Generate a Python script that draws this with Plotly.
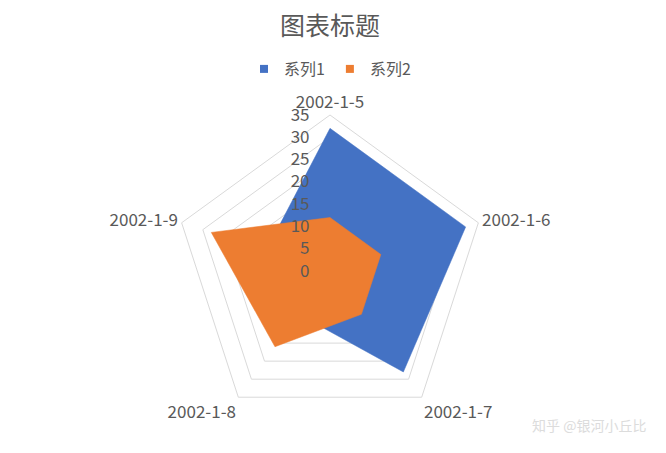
import plotly.graph_objects as go

categories = ["2002-1-5", "2002-1-6", "2002-1-7", "2002-1-8", "2002-1-9"]
series1 = [32, 32, 28, 12, 15]
series2 = [12, 12, 12, 21, 28]
series_names = ["系列1", "系列2"]
colors = ["#4472C4", "#ED7D31"]
radial_ticks = [0, 5, 10, 15, 20, 25, 30, 35]

FONT = "Noto Sans CJK SC"
GREY = "#595959"

fig = go.Figure()
for name, vals, col in zip(series_names, [series1, series2], colors):
    fig.add_trace(go.Scatterpolar(
        r=vals + vals[:1],
        theta=categories + categories[:1],
        name=name,
        mode="lines",
        fill="toself",
        fillcolor=col,
        line=dict(color=col, width=0.5),
        showlegend=False,
    ))
# legend entries with square swatches
for name, col in zip(series_names, colors):
    fig.add_trace(go.Scatterpolar(
        r=[None], theta=[None], name=name, mode="markers",
        marker=dict(symbol="square", size=8, color=col),
        showlegend=True,
    ))

W, H = 666, 453
cx, cy, R = 330, 271, 156
fig.update_layout(
    width=W, height=H,
    margin=dict(l=0, r=0, t=0, b=0),
    paper_bgcolor="white",
    plot_bgcolor="white",
    font=dict(family=FONT, color=GREY),
    title=dict(text="图表标题", x=cx / W, xanchor="center", y=1 - 26 / H, yanchor="middle",
               font=dict(size=25, color=GREY, family=FONT)),
    legend=dict(orientation="h", x=cx / W, xanchor="center", y=1 - 69 / H, yanchor="middle",
                font=dict(size=16, color=GREY, family=FONT), itemwidth=30, traceorder="normal"),
    polar=dict(
        domain=dict(x=[(cx - R) / W, (cx + R) / W], y=[(H - cy - R) / H, (H - cy + R) / H]),
        gridshape="linear",
        bgcolor="white",
        radialaxis=dict(range=[0, 35], tickvals=radial_ticks, showline=False, angle=90,
                        tickangle=90, side="counterclockwise", gridcolor="#D9D9D9", gridwidth=1,
                        ticks="outside", ticklen=14, tickcolor="rgba(0,0,0,0)",
                        tickfont=dict(size=17, color=GREY, family=FONT)),
        angularaxis=dict(type="category", categoryorder="array", categoryarray=categories,
                         rotation=90, direction="clockwise", showgrid=False,
                         linecolor="#D9D9D9", linewidth=1, ticks="",
                         tickfont=dict(size=17, color=GREY, family=FONT)),
    ),
    annotations=[dict(text="知乎 @银河小丘比", x=648 / W, xanchor="right", y=1 - 425 / H,
                      yanchor="middle", xref="paper", yref="paper", showarrow=False,
                      font=dict(size=14, color="#DCDCDC", family=FONT))],
)
fig.write_html("out.html", config={"displayModeBar": False},
               post_script="document.body.style.margin='0px';")
